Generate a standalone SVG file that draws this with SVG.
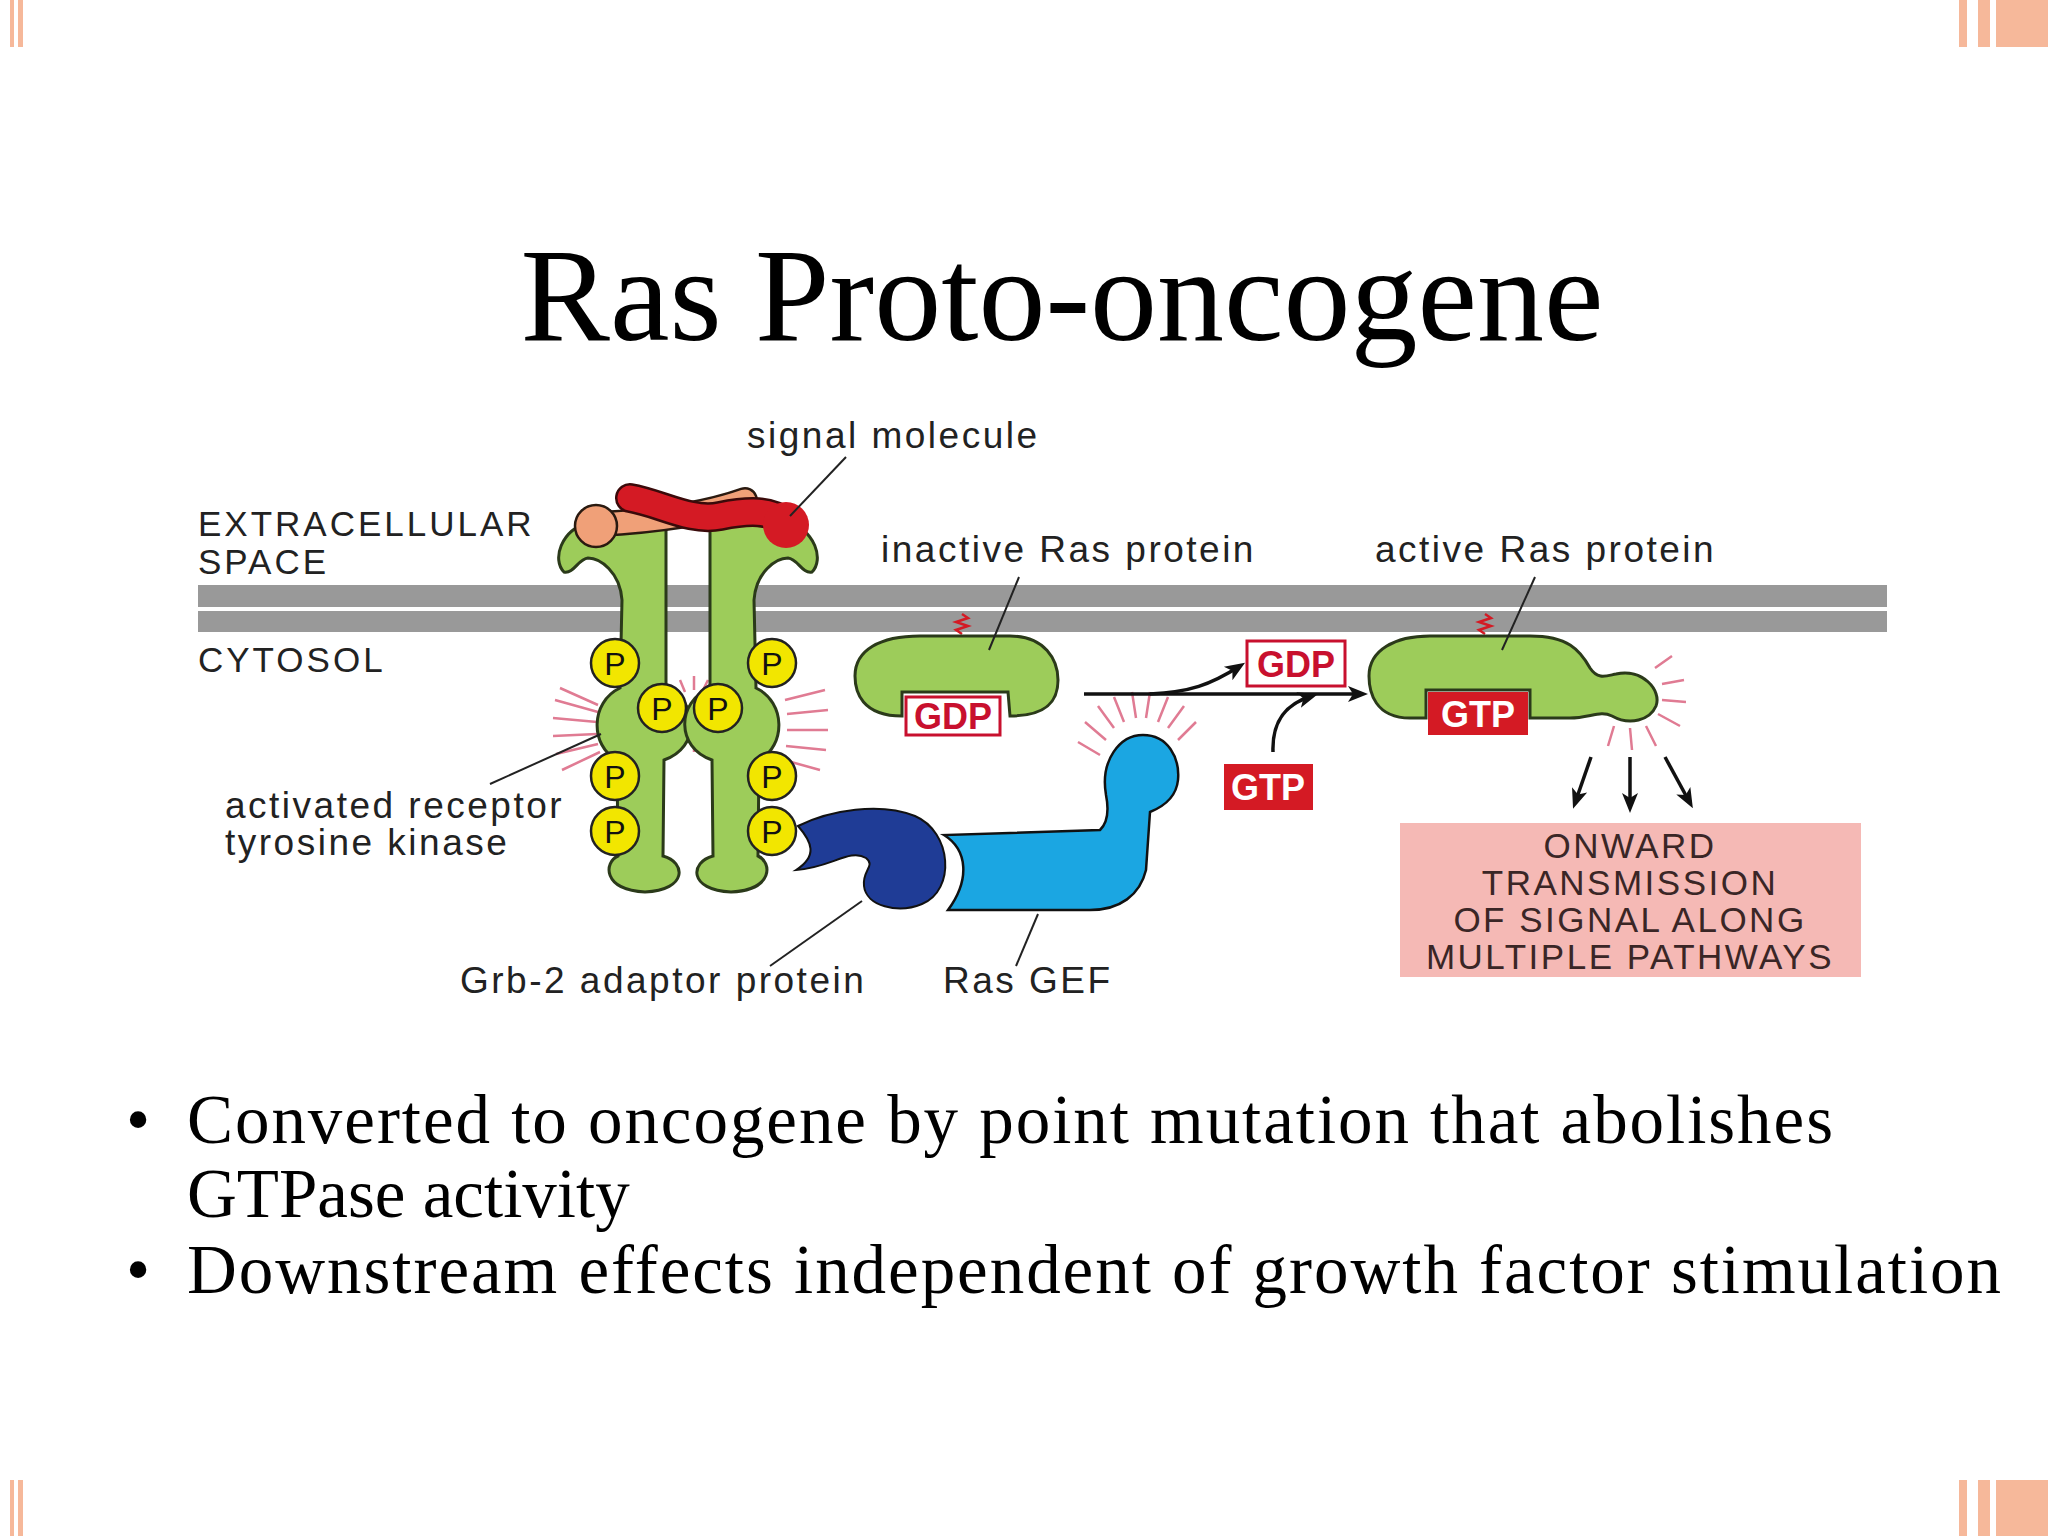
<svg xmlns="http://www.w3.org/2000/svg" xmlns:xlink="http://www.w3.org/1999/xlink" width="2048" height="1536" viewBox="0 0 2048 1536">
<style>
.lbl{font-family:"Liberation Sans",Arial,sans-serif;font-size:37px;fill:#222;letter-spacing:2.5px}
.cap{font-family:"Liberation Sans",Arial,sans-serif;font-size:35px;fill:#222;letter-spacing:3px}
.ser{font-family:"Liberation Serif","Times New Roman",serif;fill:#000}
.lead{stroke:#222;stroke-width:2;fill:none}
.green{fill:#9dcc5a;stroke:#2b3a1a;stroke-width:3}
.pc{fill:#f2e600;stroke:#222;stroke-width:2.5}
.pt{font-family:"Liberation Sans",Arial,sans-serif;font-size:32px;fill:#111;text-anchor:middle}
.ray{stroke:#e07b93;stroke-width:2.5;fill:none}
.nuc{font-family:"Liberation Sans",Arial,sans-serif;font-size:36px;font-weight:bold;text-anchor:middle}
.arr{stroke:#111;stroke-width:3.5;fill:none}
.on{font-family:"Liberation Sans",Arial,sans-serif;font-size:35px;fill:#3a2626;text-anchor:middle;letter-spacing:2.5px}
.deco{fill:#f6b89a}
</style>
<defs>
<marker id="ah2" markerWidth="20" markerHeight="20" refX="14" refY="10" orient="auto" markerUnits="userSpaceOnUse" viewBox="0 0 20 20">
<path d="M0,2 L20,10 L0,18 L5,10 Z" fill="#111"/>
</marker>
<path id="rec" class="green" d="M622 600 C620 572 600 558 588 558 C578 559 574 574 564 572 C552 560 560 530 590 522 L666 520 L666 688 C700 702 700 748 664 760 L663 856 C686 862 688 890 645 892 C602 890 604 862 618 856 L617 760 C590 746 590 702 620 688 Z"/>
</defs>
<rect width="2048" height="1536" fill="#fff"/>
<g id="decor">
<rect class="deco" x="10" y="0" width="4" height="47"/><rect class="deco" x="18" y="0" width="5" height="47"/>
<rect class="deco" x="1959" y="0" width="8" height="47"/><rect class="deco" x="1978" y="0" width="12" height="47"/><rect class="deco" x="1996" y="0" width="52" height="47"/>
<rect class="deco" x="10" y="1480" width="4" height="56"/><rect class="deco" x="18" y="1480" width="5" height="56"/>
<rect class="deco" x="1959" y="1480" width="8" height="56"/><rect class="deco" x="1978" y="1480" width="12" height="56"/><rect class="deco" x="1996" y="1480" width="52" height="56"/>
</g>
<text class="ser" x="1062" y="340" font-size="134" text-anchor="middle">Ras Proto-oncogene</text>
<g id="membrane">
<rect x="198" y="585" width="1689" height="22" fill="#999"/>
<rect x="198" y="611" width="1689" height="21" fill="#999"/>
</g>
<g id="labels-static">
<text class="cap" x="198" y="536">EXTRACELLULAR</text>
<text class="cap" x="198" y="574">SPACE</text>
<text class="cap" x="198" y="672">CYTOSOL</text>
</g>
<g id="receptor">
<g class="ray">
<path d="M555 700 L598 712 M553 718 L597 722 M553 736 L597 734 M556 754 L598 744 M562 770 L600 752 M560 688 L598 705"/>
<path d="M785 700 L825 690 M787 714 L828 710 M787 730 L828 730 M786 746 L826 750 M784 760 L820 770"/>
<path d="M680 680 L685 692 M694 676 L694 690 M708 680 L702 692 M680 748 L686 740 M694 752 L694 742 M706 748 L700 740"/>
</g>
<use xlink:href="#rec"/>
<use xlink:href="#rec" transform="translate(1376,0) scale(-1,1)"/>
<g id="signal">
<path d="M598 524 C640 522 700 516 745 500" stroke="#2a1a10" stroke-width="26" stroke-linecap="round" fill="none"/>
<path d="M598 524 C640 522 700 516 745 500" stroke="#f0a078" stroke-width="21" stroke-linecap="round" fill="none"/>
<circle cx="596" cy="526" r="21" fill="#f0a078" stroke="#2a1a10" stroke-width="2.5"/>
<path d="M630 498 C660 503 690 522 720 516 C750 510 770 510 785 522" stroke="#3a0a0a" stroke-width="30" stroke-linecap="round" fill="none"/>
<path d="M630 498 C660 503 690 522 720 516 C750 510 770 510 785 522" stroke="#d41a24" stroke-width="25" stroke-linecap="round" fill="none"/>
<circle cx="786" cy="525" r="23" fill="#d41a24"/>
</g>
<g id="phos">
<circle class="pc" cx="615" cy="663" r="24"/><text class="pt" x="615" y="675">P</text>
<circle class="pc" cx="772" cy="663" r="24"/><text class="pt" x="772" y="675">P</text>
<circle class="pc" cx="662" cy="708" r="24"/><text class="pt" x="662" y="720">P</text>
<circle class="pc" cx="718" cy="708" r="24"/><text class="pt" x="718" y="720">P</text>
<circle class="pc" cx="615" cy="776" r="24"/><text class="pt" x="615" y="788">P</text>
<circle class="pc" cx="772" cy="776" r="24"/><text class="pt" x="772" y="788">P</text>
<circle class="pc" cx="615" cy="831" r="24"/><text class="pt" x="615" y="843">P</text>
<circle class="pc" cx="772" cy="831" r="24"/><text class="pt" x="772" y="843">P</text>
</g>
</g>
<g id="grb2">
<path d="M798 826 C830 810 880 802 915 816 C952 832 956 890 922 904 C898 914 866 906 864 886 C862 870 876 866 866 858 C850 848 830 868 796 870 C818 856 812 842 798 826 Z" fill="#1f3c96" stroke="#111" stroke-width="2"/>
</g>
<g id="rasgef">
<g class="ray">
<path d="M1078 742 L1100 755 M1085 722 L1106 740 M1098 706 L1114 728 M1114 697 L1124 722 M1132 692 L1136 718 M1150 692 L1146 718 M1168 697 L1158 722 M1184 706 L1168 728 M1196 722 L1178 740"/>
</g>
<path d="M948 910 C970 880 968 850 944 835 L1100 830 C1110 820 1108 805 1106 795 C1100 760 1120 735 1143 735 C1168 735 1180 758 1178 780 C1176 800 1160 808 1150 812 L1146 870 C1140 895 1120 910 1090 910 Z" fill="#1ba6e2" stroke="#111" stroke-width="2.5"/>
</g>
<g id="inactive-ras">
<path d="M962 634 l-6 -4 l12 -4 l-12 -4 l12 -4 l-6 -4" stroke="#d41a24" stroke-width="2.5" fill="none"/>
<path class="green" d="M902 716 C862 716 855 692 855 676 C855 650 880 636 920 636 L1010 636 C1045 636 1058 660 1058 680 C1058 705 1042 716 1010 716 L1008 692 L902 692 Z"/>
<rect x="906" y="697" width="94" height="38" fill="#fff" stroke="#c8102e" stroke-width="3"/>
<text class="nuc" x="953" y="729" fill="#c8102e">GDP</text>
</g>
<g id="active-ras">
<path d="M1485 634 l-6 -4 l12 -4 l-12 -4 l12 -4 l-6 -4" stroke="#d41a24" stroke-width="2.5" fill="none"/>
<path class="green" d="M1410 718 C1375 718 1369 692 1369 676 C1369 650 1395 636 1430 636 L1530 636 C1568 636 1580 650 1590 668 C1598 680 1606 676 1616 674 C1642 668 1662 690 1656 706 C1650 720 1630 726 1612 716 C1600 710 1590 718 1570 718 L1530 718 L1530 690 L1426 690 L1426 718 Z"/>
<rect x="1428" y="692" width="100" height="43" fill="#d41a24"/>
<text class="nuc" x="1478" y="727" fill="#fff">GTP</text>
<g class="ray">
<path d="M1655 668 L1672 656 M1662 684 L1684 680 M1662 700 L1686 702 M1658 714 L1680 726 M1646 726 L1656 746 M1630 728 L1632 750 M1614 726 L1608 746"/>
</g>
</g>
<g id="free-nucleotides">
<rect x="1247" y="641" width="98" height="45" fill="#fff" stroke="#c8102e" stroke-width="3"/>
<text class="nuc" x="1296" y="677" fill="#c8102e">GDP</text>
<rect x="1224" y="764" width="89" height="46" fill="#d41a24"/>
<text class="nuc" x="1268" y="800" fill="#fff">GTP</text>
</g>
<g id="onward">
<rect x="1400" y="823" width="461" height="154" fill="#f5b9b5"/>
<text class="on" x="1630" y="858">ONWARD</text>
<text class="on" x="1630" y="895">TRANSMISSION</text>
<text class="on" x="1630" y="932">OF SIGNAL ALONG</text>
<text class="on" x="1630" y="969">MULTIPLE PATHWAYS</text>
</g>
<g id="connectors">
<path class="arr" d="M1084 694 L1362 694" marker-end="url(#ah2)"/>
<path class="arr" d="M1150 694 C1190 692 1210 685 1240 666" marker-end="url(#ah2)"/>
<path class="arr" d="M1273 752 C1272 725 1282 705 1312 696" marker-end="url(#ah2)"/>
<path class="arr" d="M1591 757 L1575 803" marker-end="url(#ah2)"/>
<path class="arr" d="M1630 757 L1630 807" marker-end="url(#ah2)"/>
<path class="arr" d="M1665 757 L1690 803" marker-end="url(#ah2)"/>
<path class="lead" d="M846 457 L790 516"/>
<path class="lead" d="M490 784 L601 734"/>
<path class="lead" d="M1019 577 L989 650"/>
<path class="lead" d="M1535 577 L1502 650"/>
<path class="lead" d="M862 901 L770 966"/>
<path class="lead" d="M1038 914 L1016 966"/>
</g>
<g id="labels">
<text class="lbl" x="747" y="448">signal molecule</text>
<text class="lbl" x="881" y="562">inactive Ras protein</text>
<text class="lbl" x="1375" y="562">active Ras protein</text>
<text class="lbl" x="225" y="818">activated receptor</text>
<text class="lbl" x="225" y="855">tyrosine kinase</text>
<text class="lbl" x="460" y="993">Grb-2 adaptor protein</text>
<text class="lbl" x="943" y="993">Ras GEF</text>
</g>
<g id="bullets" class="ser" font-size="69">
<text x="126" y="1143">•</text>
<text x="187" y="1143" textLength="1646" lengthAdjust="spacing">Converted to oncogene by point mutation that abolishes</text>
<text x="187" y="1217">GTPase activity</text>
<text x="126" y="1293">•</text>
<text x="187" y="1293" textLength="1814" lengthAdjust="spacing">Downstream effects independent of growth factor stimulation</text>
</g>
</svg>
